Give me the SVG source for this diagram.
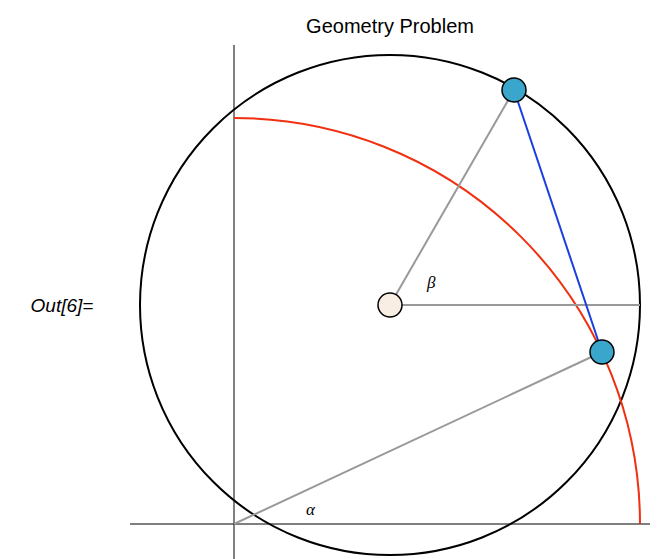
<svg xmlns="http://www.w3.org/2000/svg" width="660" height="559" viewBox="0 0 660 559">
<style>
.ax{stroke:#000;stroke-width:1;fill:none}
.g{stroke:#999;stroke-width:2;fill:none}
.pt{fill:#3aa6cc;stroke:#000;stroke-width:1.5}
text{font-family:"Liberation Sans",Arial,sans-serif;fill:#000}
.gr{font-family:"Liberation Serif","DejaVu Serif",serif;font-style:italic;font-size:17px}
</style>
<rect width="660" height="559" fill="#fff"/>
<text x="390" y="33" text-anchor="middle" font-size="20">Geometry Problem</text>
<text x="62" y="312" text-anchor="middle" font-size="19" font-style="italic">Out[6]=</text>
<g id="axes">
<line class="ax" x1="234" y1="45" x2="234" y2="559"/>
<line class="ax" x1="130" y1="524" x2="650" y2="524"/>
</g>
<g id="circle"><circle cx="390" cy="305" r="250" fill="none" stroke="#000" stroke-width="2"/></g>
<g id="arc"><path d="M234,118 A406,406 0 0 1 640,524" fill="none" stroke="#f03010" stroke-width="2"/></g>
<g id="connectors">
<line class="g" x1="390" y1="305" x2="514" y2="90"/>
<line class="g" x1="390" y1="305" x2="640" y2="305"/>
<line class="g" x1="234" y1="524" x2="602" y2="352"/>
<line x1="514" y1="90" x2="602" y2="352" stroke="#1a3ee0" stroke-width="2"/>
</g>
<g id="center"><circle cx="390" cy="305" r="12" fill="#f8eee4" stroke="#000" stroke-width="1.5"/></g>
<g id="p1"><circle class="pt" cx="514" cy="90" r="12"/></g>
<g id="p2"><circle class="pt" cx="602" cy="352" r="12"/></g>
<text class="gr" x="427" y="288">β</text>
<text class="gr" x="306" y="515">α</text>
</svg>
